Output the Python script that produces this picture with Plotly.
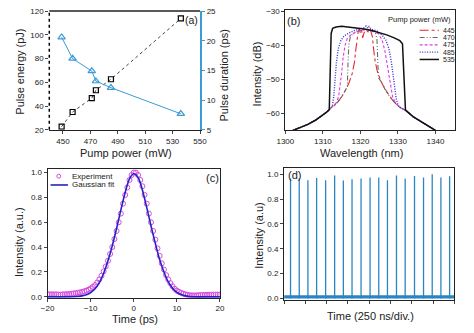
import plotly.graph_objects as go

W, H = 474, 333
FONT = "Liberation Sans, Arial, sans-serif"

# ---------------- (a) pump-power dependence ----------------
pump_mw = [449, 457, 471, 474, 485, 536]
pulse_energy_pj = [22.7, 35.0, 46.7, 53.3, 62.6, 113.8]
pulse_duration_ps = [20.6, 17.0, 14.9, 13.2, 12.1, 7.7]

# ---------------- (b) optical spectra ----------------
wing_left_nm = [1302.0, 1304.0, 1306.0, 1308.0, 1310.0, 1311.0]
wing_left_db = [-65.0, -64.2, -63.2, -62.0, -60.5, -59.6]
wing_right_nm = [1332.0, 1334.0, 1336.0, 1338.0, 1340.0]
wing_right_db = [-59.0, -60.9, -62.3, -63.6, -65.0]

spec_445_nm = [1312.0, 1313.0, 1314.0, 1315.0, 1316.0, 1317.0, 1317.8, 1318.4, 1318.8, 1319.1,
               1319.4, 1319.7, 1320.0, 1320.3, 1320.6, 1321.0, 1321.5, 1322.0, 1322.5, 1322.9,
               1323.2, 1323.5, 1323.9, 1324.5, 1325.5, 1326.5, 1327.5, 1328.5, 1329.5, 1330.5, 1331.3]
spec_445_db = [-58.5, -57.7, -56.6, -55.1, -53.2, -50.9, -48.3, -45.0, -41.0, -37.5,
               -36.0, -35.2, -36.4, -35.5, -37.8, -36.2, -35.5, -36.0, -35.0, -36.3,
               -37.5, -41.0, -44.5, -47.6, -50.6, -52.8, -54.6, -56.0, -57.2, -58.2, -58.7]

spec_470_nm = [1312.0, 1313.0, 1314.0, 1315.0, 1316.0, 1316.5, 1316.7, 1316.9, 1317.3, 1318.0,
               1319.0, 1320.0, 1321.0, 1322.0, 1323.0, 1324.0, 1324.4, 1324.6, 1324.8, 1325.5,
               1326.5, 1327.5, 1328.5, 1329.5, 1330.5, 1331.3]
spec_470_db = [-58.5, -57.7, -56.6, -55.1, -53.2, -52.0, -45.0, -40.0, -37.5, -36.5,
               -36.0, -35.6, -35.3, -35.4, -35.7, -36.5, -38.0, -44.0, -49.5, -50.6,
               -52.8, -54.6, -56.0, -57.2, -58.2, -58.7]

spec_475_nm = [1312.0, 1313.0, 1313.6, 1314.2, 1314.6, 1315.0, 1315.4, 1315.9, 1316.5, 1317.5,
               1319.0, 1320.5, 1322.0, 1323.5, 1324.8, 1325.8, 1326.5, 1327.0, 1327.5, 1328.0,
               1328.6, 1329.5, 1330.5, 1331.3]
spec_475_db = [-58.5, -57.6, -56.8, -55.0, -52.0, -48.0, -43.5, -40.0, -38.0, -36.8,
               -36.0, -35.5, -35.3, -35.8, -36.6, -38.5, -41.5, -45.0, -49.0, -52.5,
               -55.3, -57.2, -58.2, -58.7]

spec_485_nm = [1312.0, 1312.5, 1312.9, 1313.2, 1313.6, 1314.1, 1314.8, 1315.6, 1317.0, 1318.5,
               1320.0, 1321.0, 1321.5, 1322.0, 1322.3, 1323.0, 1324.5, 1325.8, 1326.8, 1327.6,
               1328.2, 1328.7, 1329.1, 1329.5, 1330.0, 1330.7, 1331.3]
spec_485_db = [-58.5, -57.9, -55.0, -50.0, -45.0, -41.0, -38.5, -37.3, -36.3, -35.6,
               -35.2, -34.8, -34.3, -35.0, -34.5, -35.3, -35.8, -37.0, -38.5, -41.0,
               -44.5, -48.0, -52.0, -55.5, -57.6, -58.3, -58.7]

spec_535_nm = [1311.7, 1311.85, 1312.0, 1312.2, 1312.6, 1313.5, 1315.0, 1317.0, 1319.0, 1321.0,
               1323.0, 1325.0, 1327.0, 1329.0, 1330.5, 1331.2, 1331.4, 1331.6, 1331.8]
spec_535_db = [-58.9, -50.0, -42.0, -36.5, -35.0, -34.6, -34.4, -34.6, -34.9, -35.2,
               -35.6, -36.2, -36.9, -37.8, -38.6, -39.5, -45.0, -52.0, -58.6]

spectra = [
    ("445", spec_445_nm, spec_445_db, "#e8262e", "dashdot", 1.1),
    ("470", spec_470_nm, spec_470_db, "#6a6a6a", "5px,2px,1px,2px,1px,2px", 1.1),
    ("475", spec_475_nm, spec_475_db, "#e03ce6", "3px,2px", 1.1),
    ("485", spec_485_nm, spec_485_db, "#3030d2", "1px,1.5px", 1.4),
    ("535", spec_535_nm, spec_535_db, "#111111", "solid", 1.5),
]

# ---------------- (c) autocorrelation trace ----------------
ac_time_ps = [-20.0, -19.5, -19.0, -18.5, -18.0, -17.5, -17.0, -16.5, -16.0, -15.5,
              -15.0, -14.5, -14.0, -13.5, -13.0, -12.5, -12.0, -11.5, -11.0, -10.5,
              -10.0, -9.5, -9.0, -8.5, -8.0, -7.5, -7.0, -6.5, -6.0, -5.5,
              -5.0, -4.5, -4.0, -3.5, -3.0, -2.5, -2.0, -1.5, -1.0, -0.5,
              0.0, 0.5, 1.0, 1.5, 2.0, 2.5, 3.0, 3.5, 4.0, 4.5,
              5.0, 5.5, 6.0, 6.5, 7.0, 7.5, 8.0, 8.5, 9.0, 9.5,
              10.0, 10.5, 11.0, 11.5, 12.0, 12.5, 13.0, 13.5, 14.0, 14.5,
              15.0, 15.5, 16.0, 16.5, 17.0, 17.5, 18.0, 18.5, 19.0, 19.5, 20.0]
ac_experiment = [0.020, 0.020, 0.020, 0.020, 0.020, 0.018, 0.018, 0.020, 0.020, 0.022,
                 0.022, 0.025, 0.027, 0.030, 0.032, 0.036, 0.040, 0.045, 0.050, 0.058,
                 0.068, 0.080, 0.095, 0.115, 0.140, 0.170, 0.205, 0.245, 0.290, 0.345,
                 0.400, 0.465, 0.530, 0.600, 0.670, 0.750, 0.820, 0.880, 0.940, 0.980,
                 1.000, 1.000, 0.980, 0.940, 0.890, 0.820, 0.750, 0.670, 0.600, 0.530,
                 0.460, 0.390, 0.330, 0.270, 0.220, 0.175, 0.140, 0.110, 0.085, 0.065,
                 0.050, 0.040, 0.032, 0.025, 0.020, 0.016, 0.013, 0.012, 0.011, 0.012,
                 0.013, 0.014, 0.015, 0.016, 0.016, 0.017, 0.017, 0.017, 0.018, 0.018, 0.018]

fit_time_ps = [-20, -16, -15, -14, -13, -12, -11, -10, -9, -8, -7, -6, -5, -4, -3, -2, -1, 0,
               1, 2, 3, 4, 5, 6, 7, 8, 9, 10, 11, 12, 13, 14, 15, 16, 20]
fit_gauss = [0.0, 0.0, 0.0, 0.001, 0.003, 0.008, 0.017, 0.034, 0.065, 0.115, 0.19, 0.29, 0.41,
             0.55, 0.70, 0.84, 0.95, 0.99, 0.96, 0.86, 0.72, 0.57, 0.43, 0.30, 0.20, 0.12,
             0.07, 0.036, 0.018, 0.008, 0.003, 0.001, 0.0, 0.0, 0.0]

# ---------------- (d) pulse train ----------------
pulse_t_ns = [75.6, 177.7, 279.8, 381.9, 487.7, 593.6, 695.7, 797.7, 903.6, 1009.5,
              1111.5, 1213.6, 1319.5, 1421.6, 1531.2, 1637.1, 1739.1, 1841.2, 1943.3]
pulse_peak = [0.966, 0.966, 0.953, 0.970, 0.953, 0.990, 0.950, 0.960, 0.966, 0.974,
              0.974, 0.953, 0.990, 0.966, 0.987, 0.974, 1.000, 0.974, 0.984]
floor_t_ns = [0, 2000]
floor_level = [0.026, 0.026]


def px(x):
    return x / W


def py(y):
    return 1 - y / H


C_BLUE_A = "#3b9bd6"
C_TRAIN = "#2a86c2"

fig = go.Figure()

# (a)
fig.add_trace(go.Scatter(x=pump_mw, y=pulse_energy_pj, mode="lines+markers",
                         line=dict(color="#444444", width=1, dash="dot"),
                         marker=dict(symbol="square-open", size=5, color="black",
                                     line=dict(width=1.2)),
                         xaxis="x", yaxis="y"))
fig.add_trace(go.Scatter(x=pump_mw, y=pulse_duration_ps, mode="lines+markers",
                         line=dict(color=C_BLUE_A, width=1),
                         marker=dict(symbol="triangle-up-open", size=6.5, color=C_BLUE_A,
                                     line=dict(width=1.2)),
                         xaxis="x", yaxis="y5"))

# (b)
for name, nm, db, col, dash, lw in spectra:
    fig.add_trace(go.Scatter(x=wing_left_nm + nm + wing_right_nm,
                             y=wing_left_db + db + wing_right_db,
                             mode="lines", name=name,
                             line=dict(color=col, width=lw, dash=dash),
                             xaxis="x2", yaxis="y2"))

# (c)
fig.add_trace(go.Scatter(x=ac_time_ps, y=ac_experiment, mode="markers", name="Experiment",
                         marker=dict(symbol="circle-open", size=5, color="#d64ade",
                                     line=dict(width=1)),
                         xaxis="x3", yaxis="y3"))
fig.add_trace(go.Scatter(x=fit_time_ps, y=fit_gauss, mode="lines", name="Gaussian fit",
                         line=dict(color="#2424c4", width=1.6, shape="spline", smoothing=0.8),
                         xaxis="x3", yaxis="y3"))

# (d)
fig.add_trace(go.Scatter(x=floor_t_ns, y=floor_level, mode="lines", fill="tozeroy",
                         fillcolor=C_TRAIN, line=dict(width=0, color=C_TRAIN),
                         xaxis="x4", yaxis="y4"))
train_x, train_y = [], []
for t, p in zip(pulse_t_ns, pulse_peak):
    train_x += [t, t, None]
    train_y += [0.0, p, None]
fig.add_trace(go.Scatter(x=train_x, y=train_y, mode="lines",
                         line=dict(color=C_TRAIN, width=1.3),
                         xaxis="x4", yaxis="y4"))

tickfont = dict(family=FONT, size=8, color="#222222")
common = dict(showgrid=False, zeroline=False, ticks="outside", ticklen=3, tickwidth=1,
              tickfont=tickfont)
frame = dict(showline=True, linecolor="#222222", linewidth=1, mirror=True)

dom_a_x = [px(41.7), px(197.7)]
dom_a_y = [py(129.3), py(7.3)]
dom_b_x = [px(286), px(462)]
dom_b_y = [py(130), py(6)]
dom_c_x = [px(40), px(218.3)]
dom_c_y = [py(302), py(169.3)]
dom_d_x = [px(284.7), px(461)]
dom_d_y = [py(304.3), py(168.7)]

fig.update_layout(
    width=W, height=H, margin=dict(l=0, r=0, t=0, b=0),
    paper_bgcolor="white", plot_bgcolor="white", showlegend=False,
    font=dict(family=FONT, color="#222222"),
    xaxis=dict(domain=dom_a_x, anchor="y", range=[440, 550],
               tickvals=[450, 470, 490, 510, 530, 550],
               showline=True, linecolor="#222222", linewidth=1.2, **common),
    yaxis=dict(domain=dom_a_y, anchor="x", range=[20, 120], dtick=20,
               showline=False, **common),
    yaxis5=dict(overlaying="y", anchor="x", side="right", range=[5, 25], dtick=5,
                showline=True, linecolor=C_BLUE_A, linewidth=2, tickcolor=C_BLUE_A,
                **common),
    xaxis2=dict(domain=dom_b_x, anchor="y2", range=[1300, 1345.3],
                tickvals=[1300, 1310, 1320, 1330, 1340], **frame, **common),
    yaxis2=dict(domain=dom_b_y, anchor="x2", range=[-65, -29.55],
                tickvals=[-60, -50, -40, -30], **frame, **common),
    xaxis3=dict(domain=dom_c_x, anchor="y3", range=[-20, 20], dtick=10, **frame, **common),
    yaxis3=dict(domain=dom_c_y, anchor="x3", range=[-0.008, 1.031],
                tickvals=[0, 0.2, 0.4, 0.6, 0.8, 1.0], tickformat=".1f", **frame, **common),
    xaxis4=dict(domain=dom_d_x, anchor="y4", range=[0, 2000], dtick=250,
                showticklabels=False, **frame, **common),
    yaxis4=dict(domain=dom_d_y, anchor="x4", range=[-0.013, 1.05],
                tickvals=[0, 0.2, 0.4, 0.6, 0.8, 1.0], tickformat=".1f", **frame, **common),
)

shapes = [
    # dotted left axis and solid top border of (a)
    dict(type="line", xref="paper", yref="paper", x0=dom_a_x[0], x1=dom_a_x[0],
         y0=dom_a_y[0], y1=dom_a_y[1], line=dict(color="black", width=1.5, dash="dot")),
    dict(type="line", xref="paper", yref="paper", x0=dom_a_x[0], x1=dom_a_x[1],
         y0=dom_a_y[1], y1=dom_a_y[1], line=dict(color="#222222", width=1.5)),
]

annotations = []


def label(text, x, y, size=11, angle=0, xanchor="center"):
    annotations.append(dict(text=text, x=px(x), y=py(y), xref="paper", yref="paper",
                            showarrow=False, textangle=angle, xanchor=xanchor,
                            yanchor="middle", font=dict(family=FONT, size=size,
                                                        color="#222222")))


# axis titles
label("Pump power (mW)", 121, 153)
label("Pulse energy (pJ)", 12, 70, angle=-90)
label("Pulse duration (ps)", 222, 74, angle=-90)
label("Wavelength (nm)", 365, 153)
label("Intensity (dB)", 257, 72, angle=-90)
label("Time (ps)", 130, 323.5)
label("Intensity (a.u.)", 11, 245, angle=-90)
label("Time (250 ns/div.)", 374, 321)
label("Intensity (a.u)", 258, 238, angle=-90)

# panel tags
label("(a)", 189, 16, size=10.5)
label("(b)", 294, 17, size=11)
label("(c)", 211, 179, size=11)
label("(d)", 295, 176, size=11)

# legend of (b)
label("Pump power (mW)", 459, 16, size=7.5, xanchor="right")
leg_y = [27, 34.5, 42, 49.5, 57]
for (name, _, _, col, dash, lw), yy in zip(spectra, leg_y):
    shapes.append(dict(type="line", xref="paper", yref="paper", x0=px(425), x1=px(445),
                       y0=py(yy), y1=py(yy), line=dict(color=col, width=lw, dash=dash)))
    label(name, 447, yy, size=7, xanchor="left")

# legend of (c)
shapes.append(dict(type="circle", xref="paper", yref="paper",
                   x0=px(49.5), x1=px(53.5), y0=py(179), y1=py(175),
                   line=dict(color="#d64ade", width=1)))
label("Experiment", 63, 177, size=8, xanchor="left")
shapes.append(dict(type="line", xref="paper", yref="paper", x0=px(43), x1=px(61),
                   y0=py(186), y1=py(186), line=dict(color="#2424c4", width=1.6)))
label("Gaussian fit", 63, 186, size=8, xanchor="left")

fig.update_layout(shapes=shapes, annotations=annotations)

fig.write_html("out.html")
